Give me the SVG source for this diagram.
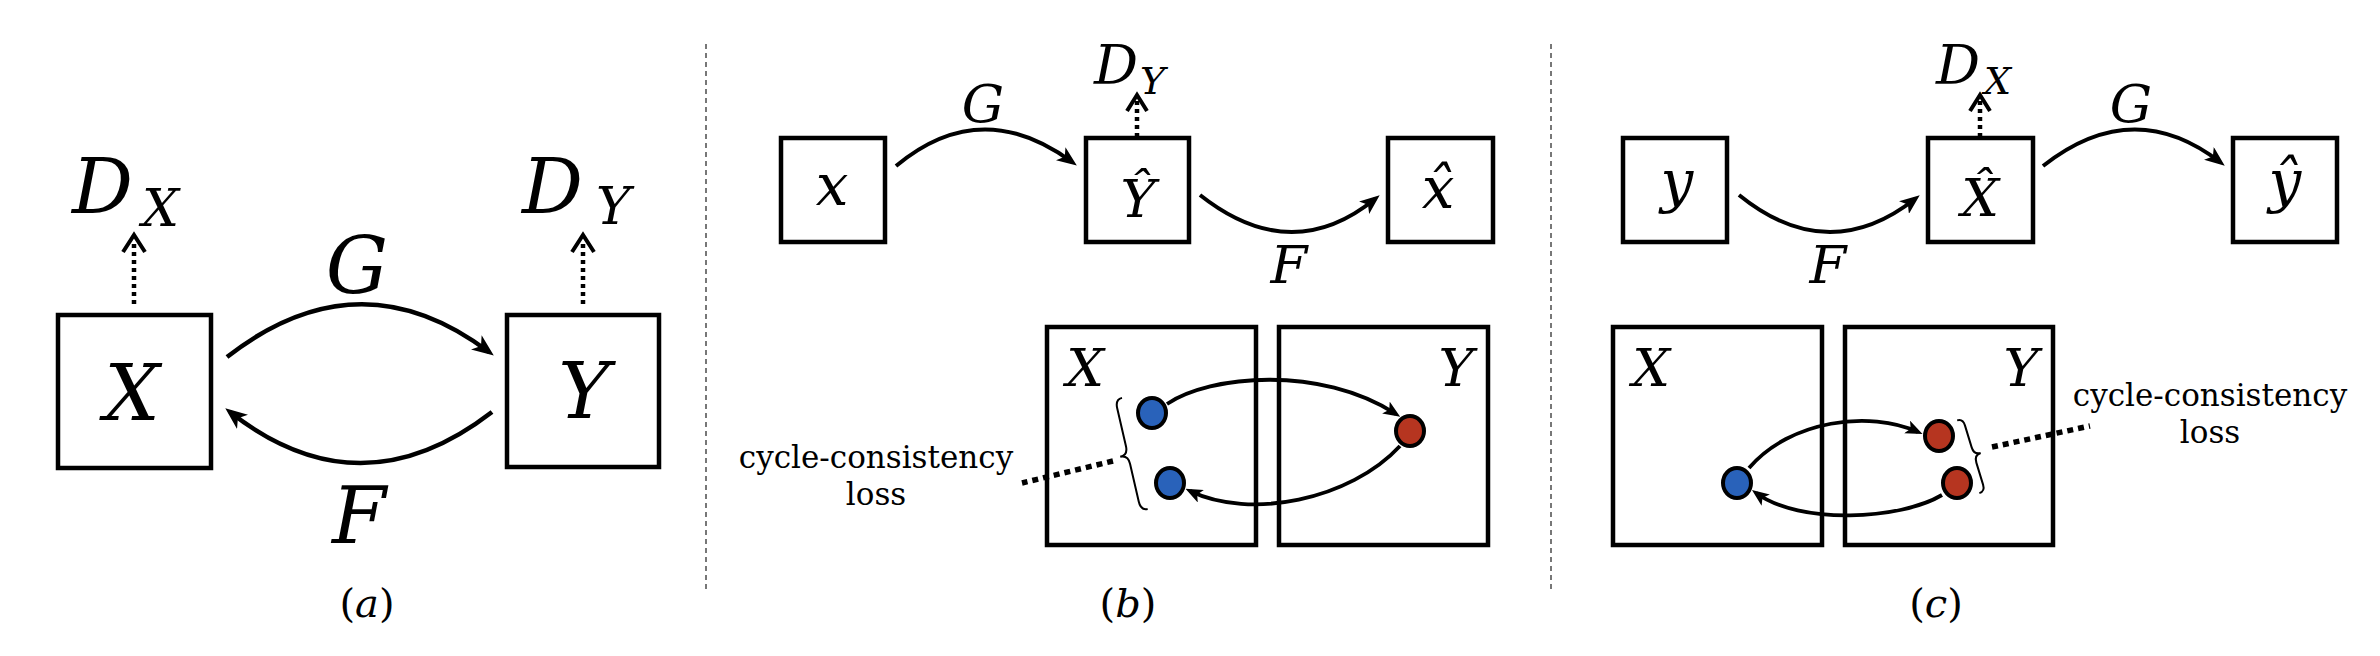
<svg xmlns="http://www.w3.org/2000/svg" width="2380" height="656" viewBox="0 0 2380 656">
<style>
.bx{fill:none;stroke:#000;stroke-width:4.5}
.m{font-family:"DejaVu Serif","Liberation Serif",serif;font-style:italic;fill:#000}
.t{font-family:"DejaVu Serif","Liberation Serif",serif;fill:#000}
.cv{fill:none;stroke:#000;stroke-width:4.5}
.cs{fill:none;stroke:#000;stroke-width:4}
.cb{fill:none;stroke:#000;stroke-width:3.8}
.dv{fill:none;stroke:#000;stroke-width:4.5;stroke-dasharray:4 4}
.ch{fill:none;stroke:#000;stroke-width:4;stroke-linejoin:miter}
.dl{fill:none;stroke:#000;stroke-width:5.5;stroke-dasharray:6 5}
.sep{fill:none;stroke:#777;stroke-width:2;stroke-dasharray:5 4}
.br{fill:none;stroke:#000;stroke-width:2}
.blue{fill:#2962BA;stroke:#000;stroke-width:4}
.red{fill:#B63520;stroke:#000;stroke-width:4}
</style>
<defs>
<marker id="ahL" viewBox="0 0 22 18" refX="16" refY="9" markerWidth="22" markerHeight="18" orient="auto" markerUnits="userSpaceOnUse"><path d="M0,0 L22,9 L0,18 L6,9 z" fill="#000"/></marker>
<marker id="ahM" viewBox="0 0 20 16" refX="14" refY="8" markerWidth="20" markerHeight="16" orient="auto" markerUnits="userSpaceOnUse"><path d="M0,0 L20,8 L0,16 L5,8 z" fill="#000"/></marker>
<marker id="ahS" viewBox="0 0 17 14" refX="12" refY="7" markerWidth="17" markerHeight="14" orient="auto" markerUnits="userSpaceOnUse"><path d="M0,0 L17,7 L0,14 L4,7 z" fill="#000"/></marker>
</defs>

<g id="separators">
<line class="sep" x1="706" y1="44" x2="706" y2="589"/>
<line class="sep" x1="1551" y1="44" x2="1551" y2="589"/>
</g>

<!-- Panel (a) -->
<g id="a-X"><rect class="bx" x="58" y="315" width="153" height="153"/><text class="m" x="132" y="420" font-size="78" text-anchor="middle">X</text></g>
<g id="a-Y"><rect class="bx" x="507" y="315" width="152" height="152"/><text class="m" x="584" y="418" font-size="78" text-anchor="middle">Y</text></g>
<g id="a-DX"><text class="m" x="72" y="213" font-size="76">D</text><text class="m" x="142" y="226" font-size="52">X</text></g>
<g id="a-DY"><text class="m" x="522" y="213" font-size="76">D</text><text class="m" x="596" y="224" font-size="52">Y</text></g>
<g id="a-labels">
<text class="m" x="357" y="293" font-size="78" text-anchor="middle">G</text>
<text class="m" x="359" y="543" font-size="78" text-anchor="middle">F</text>
<text class="t" x="367" y="617" font-size="40" text-anchor="middle">(<tspan font-style="italic">a</tspan>)</text>
</g>

<!-- Panel (b) -->
<g id="b-x"><rect class="bx" x="781" y="138" width="104" height="104"/><text class="m" x="832" y="205" font-size="58" text-anchor="middle">x</text></g>
<g id="b-Yhat"><rect class="bx" x="1086" y="138" width="103" height="104"/><text class="m" x="1138" y="217" font-size="53" text-anchor="middle">Ŷ</text></g>
<g id="b-xhat"><rect class="bx" x="1388" y="138" width="105" height="104"/><text class="m" x="1438" y="208" font-size="58" text-anchor="middle">x̂</text></g>
<g id="b-DY"><text class="m" x="1094" y="84" font-size="55">D</text><text class="m" x="1140" y="94" font-size="38">Y</text></g>
<g id="b-labels">
<text class="m" x="983" y="122" font-size="53" text-anchor="middle">G</text>
<text class="m" x="1289" y="283" font-size="53" text-anchor="middle">F</text>
<text class="t" x="1128" y="617" font-size="40" text-anchor="middle">(<tspan font-style="italic">b</tspan>)</text>
</g>
<g id="b-boxX"><rect class="bx" x="1047" y="327" width="209" height="218"/><text class="m" x="1085" y="386" font-size="53" text-anchor="middle">X</text></g>
<g id="b-boxY"><rect class="bx" x="1279" y="327" width="209" height="218"/><text class="m" x="1456" y="386" font-size="53" text-anchor="middle">Y</text></g>
<g id="b-dot1"><ellipse class="blue" cx="1152" cy="413" rx="14" ry="15"/></g>
<g id="b-dot2"><ellipse class="blue" cx="1170" cy="483" rx="14" ry="15"/></g>
<g id="b-dot3"><ellipse class="red" cx="1410" cy="431" rx="14" ry="15"/></g>
<g id="b-brace"><path class="br" transform="translate(1128,455) rotate(-13)" d="M7,-57 Q0,-57 0,-48 L0,-9 Q0,0 -8,0 Q0,0 0,9 L0,48 Q0,57 7,57"/></g>
<g id="b-loss"><text class="t" x="876" y="468" font-size="31" text-anchor="middle">cycle-consistency</text><text class="t" x="876" y="505" font-size="31" text-anchor="middle">loss</text></g>

<!-- Panel (c) -->
<g id="c-y"><rect class="bx" x="1623" y="138" width="104" height="104"/><text class="m" x="1677" y="201" font-size="58" text-anchor="middle">y</text></g>
<g id="c-Xhat"><rect class="bx" x="1928" y="138" width="105" height="104"/><text class="m" x="1980" y="216" font-size="53" text-anchor="middle">X̂</text></g>
<g id="c-yhat"><rect class="bx" x="2233" y="138" width="104" height="104"/><text class="m" x="2285" y="201" font-size="58" text-anchor="middle">ŷ</text></g>
<g id="c-DX"><text class="m" x="1936" y="84" font-size="55">D</text><text class="m" x="1984" y="94" font-size="38">X</text></g>
<g id="c-labels">
<text class="m" x="2131" y="122" font-size="53" text-anchor="middle">G</text>
<text class="m" x="1828" y="283" font-size="53" text-anchor="middle">F</text>
<text class="t" x="1936" y="617" font-size="40" text-anchor="middle">(<tspan font-style="italic">c</tspan>)</text>
</g>
<g id="c-boxX"><rect class="bx" x="1613" y="327" width="209" height="218"/><text class="m" x="1651" y="386" font-size="53" text-anchor="middle">X</text></g>
<g id="c-boxY"><rect class="bx" x="1845" y="327" width="208" height="218"/><text class="m" x="2021" y="386" font-size="53" text-anchor="middle">Y</text></g>
<g id="c-dot1"><ellipse class="blue" cx="1737" cy="483" rx="14" ry="15"/></g>
<g id="c-dot2"><ellipse class="red" cx="1939" cy="436" rx="14" ry="15"/></g>
<g id="c-dot3"><ellipse class="red" cx="1957" cy="483" rx="14" ry="15"/></g>
<g id="c-brace"><path class="br" transform="translate(1974,455) rotate(-17)" d="M-6,-38 Q0,-38 0,-31 L0,-8 Q0,0 7,0 Q0,0 0,8 L0,31 Q0,38 -6,38"/></g>
<g id="c-loss"><text class="t" x="2210" y="406" font-size="31" text-anchor="middle">cycle-consistency</text><text class="t" x="2210" y="443" font-size="31" text-anchor="middle">loss</text></g>

<g id="connectors">
<path class="cv" d="M227,357 Q359,254 489,352" marker-end="url(#ahL)"/>
<path class="cv" d="M492,412 Q360,514 230,412" marker-end="url(#ahL)"/>
<line class="dv" x1="134" y1="304" x2="134" y2="240"/>
<polyline class="ch" points="123,252 134,235 145,252"/>
<line class="dv" x1="583" y1="304" x2="583" y2="240"/>
<polyline class="ch" points="572,252 583,235 594,252"/>
<path class="cs" d="M896,166 Q981,95 1072,162" marker-end="url(#ahM)"/>
<path class="cs" d="M1200,195 Q1291,267 1375,199" marker-end="url(#ahM)"/>
<line class="dv" x1="1137" y1="137" x2="1137" y2="101"/>
<polyline class="ch" points="1127,111 1137,95 1147,111"/>
<path class="cs" d="M1739,195 Q1828,267 1915,199" marker-end="url(#ahM)"/>
<path class="cs" d="M2043,166 Q2133,95 2220,162" marker-end="url(#ahM)"/>
<line class="dv" x1="1980" y1="137" x2="1980" y2="101"/>
<polyline class="ch" points="1970,111 1980,95 1990,111"/>
<path class="cb" d="M1167,404 C1210,375 1320,365 1396,414" marker-end="url(#ahS)"/>
<path class="cb" d="M1400,446 C1350,500 1250,520 1190,491" marker-end="url(#ahS)"/>
<line class="dl" x1="1113" y1="461" x2="1022" y2="483"/>
<path class="cb" d="M1749,468 C1790,420 1870,410 1918,432" marker-end="url(#ahS)"/>
<path class="cb" d="M1942,495 C1900,520 1800,525 1756,493" marker-end="url(#ahS)"/>
<line class="dl" x1="1992" y1="447" x2="2090" y2="426"/>
</g>
</svg>
